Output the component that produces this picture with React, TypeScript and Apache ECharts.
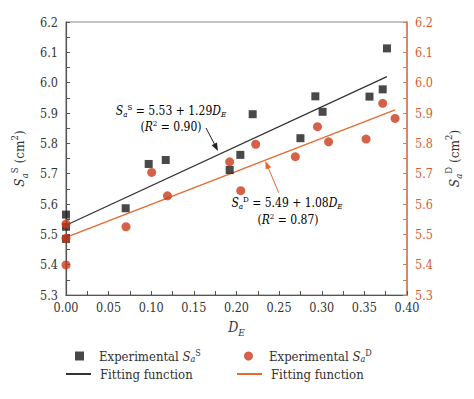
import React, { useEffect, useRef } from "react";
import * as echarts from "echarts";

const sDE = [0, 0, 0, 0.07, 0.097, 0.117, 0.192, 0.2045, 0.219, 0.275, 0.2925, 0.301, 0.356, 0.3715, 0.3765];
const sVal = [5.565, 5.525, 5.485, 5.586, 5.732, 5.745, 5.712, 5.762, 5.896, 5.817, 5.955, 5.904, 5.954, 5.978, 6.113];
const dDE = [0, 0, 0, 0.0704, 0.1005, 0.119, 0.192, 0.205, 0.2225, 0.269, 0.295, 0.308, 0.352, 0.3715, 0.386];
const dVal = [5.534, 5.487, 5.399, 5.525, 5.704, 5.627, 5.739, 5.644, 5.797, 5.756, 5.855, 5.805, 5.814, 5.932, 5.882];
const fitSX = [0, 0.3765];
const fitSY = [5.53, 6.02];
const fitDX = [0, 0.386];
const fitDY = [5.49, 5.91];

const FONT = "DejaVu Serif Condensed, DejaVu Serif, serif";
const TXT = "#333333";
const BLACK = "#1c1c1c";
const RED = "#cc3a1c";
const ORANGE = "#e4692f";
const AXIS_OR = "#e27a4a";
const LABEL_OR = "#d85a2e";

const richBase = (size: number, color: string, lh = size + 6) => ({
  t: { fontFamily: FONT, fontSize: size, color, lineHeight: lh },
  i: { fontFamily: FONT, fontSize: size, color, fontStyle: "italic", lineHeight: lh },
  sub: { fontFamily: FONT, fontSize: size - 4, color, fontStyle: "italic", verticalAlign: "bottom", lineHeight: lh },
  subi: { fontFamily: FONT, fontSize: size - 4, color, fontStyle: "italic", verticalAlign: "bottom", lineHeight: lh },
  sup: { fontFamily: FONT, fontSize: size - 4, color, verticalAlign: "top", lineHeight: lh },
});

export default function App() {
  const ref = useRef<HTMLDivElement>(null);
  useEffect(() => {
    if (!ref.current) return;
    const chart = echarts.init(ref.current, null, { renderer: "svg" });
    const legendNames: Record<string, string> = {
      "Experimental S": "{t|Experimental }{i|S}{sub|a}{sup|S}",
      "Experimental D": "{t|Experimental }{i|S}{sub|a}{sup|D}",
      "Fitting S": "{t|Fitting function}",
      "Fitting D": "{t|Fitting function}",
    };
    const mkLegend = (name: string, left: number, top: number, w: number, h: number, icon: string, pad: number) => ({
      data: [{ name, icon }],
      left,
      top,
      itemWidth: w,
      itemHeight: h,
      itemGap: 0,
      padding: 0,
      selectedMode: false,
      formatter: (n: string) => legendNames[n],
      textStyle: { fontFamily: FONT, fontSize: 13, color: TXT, lineHeight: 15, padding: [0, 0, 0, pad], rich: richBase(13, TXT, 15) },
    });
    const axisLabelStyle = { fontFamily: FONT, fontSize: 12.5, color: TXT };
    chart.setOption({
      animation: false,
      backgroundColor: "#ffffff",
      textStyle: { fontFamily: FONT },
      grid: { left: 66, top: 22, right: 67, bottom: 104, show: true, borderColor: "#8a8a8a", borderWidth: 1.2 },
      xAxis: {
        type: "value",
        min: 0,
        max: 0.4,
        interval: 0.05,
        name: "{i|D}{subi|E}",
        nameLocation: "middle",
        nameGap: 22,
        nameTextStyle: { fontFamily: FONT, rich: richBase(14, TXT) },
        axisLine: { lineStyle: { color: "#555555", width: 1.2 } },
        axisTick: { inside: true, length: 4, lineStyle: { color: "#555555" } },
        minorTick: { show: true, splitNumber: 2, length: 4, lineStyle: { color: "#555555" } },
        splitLine: { show: false },
        axisLabel: { ...axisLabelStyle, margin: 6, formatter: (v: number) => v.toFixed(2) },
      },
      yAxis: [
        {
          type: "value",
          min: 5.3,
          max: 6.2,
          interval: 0.1,
          position: "left",
          name: "{i|S}{sub|a}{sup|S}{t| (cm}{sup|2}{t|)}",
          nameLocation: "middle",
          nameRotate: 90,
          nameGap: 28,
          nameTextStyle: { fontFamily: FONT, rich: richBase(13.5, TXT) },
          axisLine: { show: true, lineStyle: { color: "#555555", width: 1.2 } },
          axisTick: { inside: true, length: 4, lineStyle: { color: "#555555" } },
          minorTick: { show: true, splitNumber: 2, length: 4, lineStyle: { color: "#555555" } },
          splitLine: { show: false },
          axisLabel: { ...axisLabelStyle, margin: 8, formatter: (v: number) => v.toFixed(1) },
        },
        {
          type: "value",
          min: 5.3,
          max: 6.2,
          interval: 0.1,
          position: "right",
          name: "{i|S}{sub|a}{sup|D}{t| (cm}{sup|2}{t|)}",
          nameLocation: "middle",
          nameRotate: 90,
          nameGap: 24,
          nameTextStyle: { fontFamily: FONT, rich: richBase(13.5, TXT) },
          axisLine: { show: true, lineStyle: { color: AXIS_OR, width: 1.5 } },
          axisTick: { inside: true, length: 4, lineStyle: { color: AXIS_OR } },
          minorTick: { show: true, splitNumber: 2, length: 4, lineStyle: { color: AXIS_OR } },
          splitLine: { show: false },
          axisLabel: { ...axisLabelStyle, color: LABEL_OR, margin: 8, formatter: (v: number) => v.toFixed(1) },
        },
      ],
      legend: [
        mkLegend("Experimental S", 75, 348.5, 9, 9, "rect", 10),
        mkLegend("Fitting S", 66, 366.5, 25, 2, "rect", 4),
        mkLegend("Experimental D", 244, 348.5, 9, 9, "circle", 11),
        mkLegend("Fitting D", 237, 366.5, 25, 2, "rect", 4),
      ],
      series: [
        {
          name: "Fitting S",
          type: "line",
          data: fitSX.map((x, k) => [x, fitSY[k]]),
          showSymbol: false,
          symbol: "none",
          color: "#333333",
          lineStyle: { color: "#333333", width: 1.3 },
          z: 2,
        },
        {
          name: "Fitting D",
          type: "line",
          data: fitDX.map((x, k) => [x, fitDY[k]]),
          showSymbol: false,
          symbol: "none",
          color: ORANGE,
          lineStyle: { color: ORANGE, width: 1.3 },
          z: 2,
        },
        {
          name: "Experimental S",
          type: "scatter",
          symbol: "rect",
          symbolSize: 8,
          color: BLACK,
          itemStyle: { color: BLACK },
          data: sDE.map((x, k) => [x, sVal[k]]),
          z: 3,
        },
        {
          name: "Experimental D",
          type: "scatter",
          symbol: "circle",
          symbolSize: 9,
          color: RED,
          itemStyle: { color: RED },
          data: dDE.map((x, k) => [x, dVal[k]]),
          z: 4,
        },
      ],
      graphic: [
        {
          type: "text",
          x: 171,
          y: 111,
          style: {
            text: "{i|S}{sub|a}{sup|S}{t| = 5.53 + 1.29}{i|D}{subi|E}",
            align: "center",
            verticalAlign: "middle",
            rich: richBase(12, TXT, 15),
          },
        },
        {
          type: "text",
          x: 171,
          y: 127,
          style: { text: "{t|(}{i|R}{sup|2}{t| = 0.90)}", align: "center", verticalAlign: "middle", rich: richBase(12, TXT, 15) },
        },
        { type: "line", shape: { x1: 206, y1: 128, x2: 215.5, y2: 146 }, style: { stroke: "#222222", lineWidth: 1 } },
        { type: "polygon", shape: { points: [[218, 151], [211.6, 145.3], [217, 142.5]] }, style: { fill: "#222222" } },
        {
          type: "text",
          x: 287,
          y: 203,
          style: {
            text: "{i|S}{sub|a}{sup|D}{t| = 5.49 + 1.08}{i|D}{subi|E}",
            align: "center",
            verticalAlign: "middle",
            rich: richBase(12, TXT, 15),
          },
        },
        {
          type: "text",
          x: 288,
          y: 220,
          style: { text: "{t|(}{i|R}{sup|2}{t| = 0.87)}", align: "center", verticalAlign: "middle", rich: richBase(12, TXT, 15) },
        },
        { type: "line", shape: { x1: 278.7, y1: 192.7, x2: 267.5, y2: 166 }, style: { stroke: ORANGE, lineWidth: 1 } },
        { type: "polygon", shape: { points: [[265.3, 161], [271.2, 167.2], [265.7, 169.6]] }, style: { fill: ORANGE } },
      ],
    });
    return () => chart.dispose();
  }, []);
  return <div ref={ref} style={{ width: 474, height: 399, position: "absolute", left: 0, top: 0 }} />;
}
